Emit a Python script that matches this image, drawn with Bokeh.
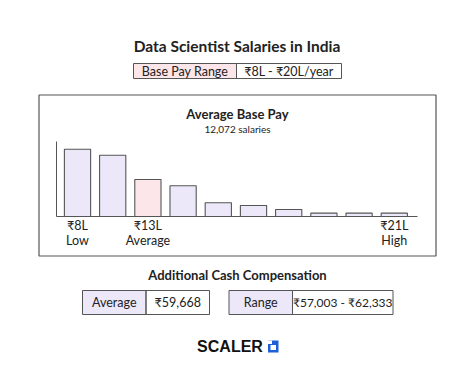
from bokeh.plotting import figure
from bokeh.models import Range1d, ColumnDataSource
from bokeh.core.properties import value
from bokeh.embed import file_html
from bokeh.resources import INLINE

# ---------------- data ----------------
title = "Data Scientist Salaries in India"
base_pay_label = "Base Pay Range"
base_pay_range = "₹8L - ₹20L/year"
chart_title = "Average Base Pay"
chart_subtitle = "12,072 salaries"
bins = list(range(10))
counts = [3410, 3106, 1875, 1555, 694, 557, 355, 170, 170, 170]
highlight_bin = 2
tick_bins = [0, 2, 9]
tick_values = ["₹8L", "₹13L", "₹21L"]
tick_names = ["Low", "Average", "High"]
cash_title = "Additional Cash Compensation"
cash_labels = ["Average", "Range"]
cash_values = ["₹59,668", "₹57,003 - ₹62,333"]
brand = "SCALER"

# ---------------- styles / layout ----------------
FONT = "Lato"
EDGE = "#555555"
LAV = "#ECE8FA"
PINK = "#FDE6EA"
TXT = "#222222"

W, H = 474, 391
OX, OY = 0, 0  # coordinates below are page pixels

p = figure(width=W, height=H, output_backend="svg", toolbar_location=None,
           x_range=Range1d(OX, OX + W), y_range=Range1d(OY + H, OY),
           min_border=0, outline_line_color=None)
p.axis.visible = False
p.grid.visible = False
p.background_fill_color = "white"
p.border_fill_color = "white"

def txt(x, y, s, size, bold=False, color=TXT, align="center", font=FONT):
    p.text(x=[x], y=[y], text=[s], text_font=value(font), text_font_size=size,
           text_font_style="bold" if bold else "normal", text_color=color,
           text_align=align, text_baseline="middle")

# title
txt(236.5, 45, title, "15.5px", bold=True)

# base pay range box
p.quad(left=[133], right=[236], top=[63], bottom=[78], fill_color=PINK, line_color=None)
p.quad(left=[133, 236], right=[236, 341], top=[63, 63], bottom=[78, 78],
       fill_color=None, line_color=EDGE, line_width=1)
txt(184.5, 71, base_pay_label, "12.5px")
txt(288.5, 71, base_pay_range, "12.5px")

# outer chart box
p.quad(left=[38.5], right=[435.5], top=[94.5], bottom=[255.5], fill_color=None,
       line_color=EDGE, line_width=1.2)
txt(237, 113, chart_title, "13px", bold=True)
txt(237, 128, chart_subtitle, "10px")

# bar chart through its own scales
pitch = 35.2
c0 = 77.0          # page x of first bar centre
base_y = 216.0     # page y of baseline
max_h = 67.3       # pixel height of tallest bar
x_lo = (OX - c0) / pitch
x_hi = (OX + W - c0) / pitch
k = max_h / max(counts)
y_lo = -(OY + H - base_y) / k
y_hi = (base_y - OY) / k
p.extra_x_ranges = {"bx": Range1d(x_lo, x_hi)}
p.extra_y_ranges = {"by": Range1d(y_lo, y_hi)}

colors = [PINK if b == highlight_bin else LAV for b in bins]
src = ColumnDataSource(dict(x=bins, top=counts, color=colors))
p.vbar(x="x", top="top", bottom=0, width=0.745, source=src,
       x_range_name="bx", y_range_name="by",
       fill_color="color", line_color=EDGE, line_width=1.1)

# axis lines
p.line(x=[56, 56], y=[141, base_y], line_color=EDGE, line_width=1)
p.line(x=[56, 417], y=[base_y, base_y], line_color=EDGE, line_width=1)

tick_src = ColumnDataSource(dict(x=tick_bins, v=tick_values, n=tick_names))
p.text(x="x", y=225, text="v", source=tick_src, x_range_name="bx",
       text_font=value(FONT), text_font_size="12.5px", text_color=TXT,
       text_align="center", text_baseline="middle")
p.text(x="x", y=239.5, text="n", source=tick_src, x_range_name="bx",
       text_font=value(FONT), text_font_size="12.5px", text_color=TXT,
       text_align="center", text_baseline="middle")

# additional cash compensation
txt(237, 274, cash_title, "13px", bold=True)
boxes = [(82, 145.5, 209), (228.5, 292, 392.5)]
for (l, m, r), lab, val in zip(boxes, cash_labels, cash_values):
    p.quad(left=[l], right=[m], top=[290], bottom=[314], fill_color=LAV, line_color=None)
    p.quad(left=[l, m], right=[m, r], top=[290, 290], bottom=[314, 314],
           fill_color=None, line_color=EDGE, line_width=1)
    txt((l + m) / 2, 302, lab, "12.5px")
    txt((m + r) / 2, 302, val, "12px" if len(val) > 10 else "12.5px")

# brand
txt(229.5, 346, brand, "16px", bold=True, color="#111111", font="Liberation Sans")
BLUE = "#1D5FD6"
p.quad(left=[267.5], right=[278], top=[340], bottom=[352], fill_color=BLUE, line_color=None)
p.quad(left=[270], right=[275.5], top=[344.5], bottom=[349.5], fill_color="white", line_color=None)
p.quad(left=[267.5], right=[271.5], top=[340], bottom=[343.5], fill_color="white", line_color=None)

open("out.html", "w").write(file_html(p, INLINE))
